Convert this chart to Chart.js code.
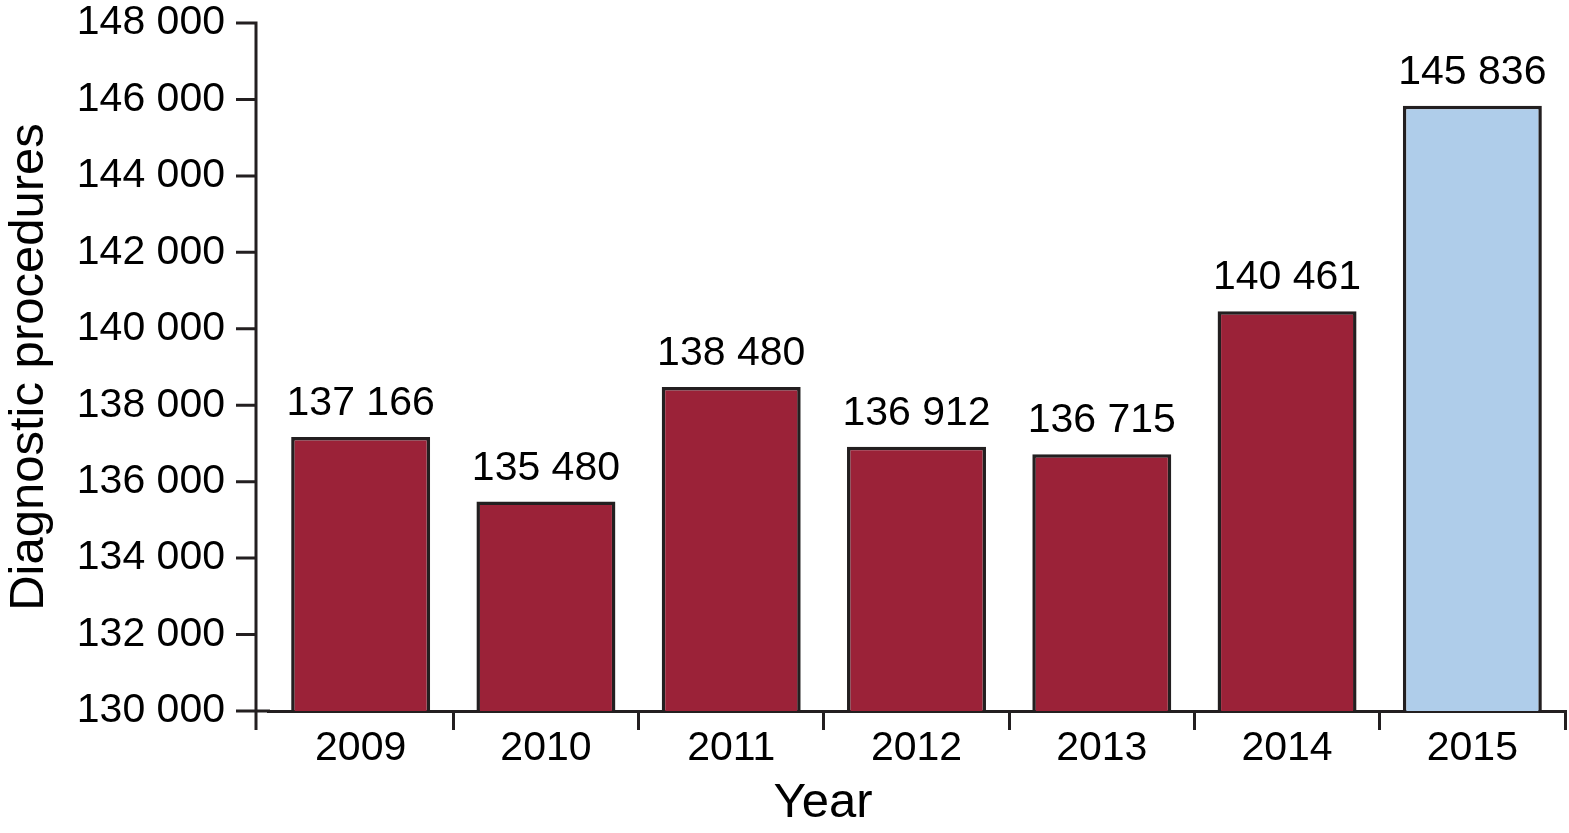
<!DOCTYPE html>
<html>
<head>
<meta charset="utf-8">
<script src="https://cdn.jsdelivr.net/npm/chart.js@4"></script>
<style>
  html, body { margin: 0; padding: 0; background: #fff; }
  #wrap { width: 1569px; height: 833px; }
</style>
</head>
<body>
<div id="wrap"><canvas id="myChart" width="1569" height="833"></canvas></div>
<script>
// data
const years = ['2009', '2010', '2011', '2012', '2013', '2014', '2015'];
const procedures = [137166, 135480, 138480, 136912, 136715, 140461, 145836];
const yMin = 130000;
const yMax = 148000;
const yStep = 2000;

const red = '#9b2238';
const blue = '#afcdea';
const ink = '#231f20';
const font = "'Liberation Sans', Arial, sans-serif";

// 148000 -> "148 000"
function fmt(v) {
    return String(v).replace(/\B(?=(\d{3})+(?!\d))/g, ' ');
}

// y axis line sits a bit left of where the first category starts
const axisPlugin = {
    id: 'axisPlugin',
    afterDraw(chart) {
        const ctx = chart.ctx;
        const a = chart.chartArea;
        const y = chart.scales.y;
        const ax = a.left - 12;
        ctx.save();
        ctx.strokeStyle = ink;
        ctx.lineWidth = 3;
        ctx.beginPath();
        ctx.moveTo(ax, y.getPixelForValue(yMax) - 1.5);
        ctx.lineTo(ax, a.bottom + 19);
        y.ticks.forEach(t => {
            const py = y.getPixelForValue(t.value);
            ctx.moveTo(ax - 20, py);
            ctx.lineTo(ax, py);
        });
        ctx.moveTo(ax, a.bottom);
        ctx.lineTo(a.left + 2, a.bottom);
        ctx.stroke();

        // x title, centred under the whole figure
        ctx.fillStyle = '#000';
        ctx.font = '49px ' + font;
        ctx.textAlign = 'center';
        ctx.textBaseline = 'alphabetic';
        ctx.fillText('Year', 823, 817);
        ctx.restore();
    },
    afterDatasetsDraw(chart) {
        const ctx = chart.ctx;
        const meta = chart.getDatasetMeta(0);
        ctx.save();
        ctx.fillStyle = '#000';
        ctx.font = '41px ' + font;
        ctx.textAlign = 'center';
        ctx.textBaseline = 'alphabetic';
        meta.data.forEach((bar, i) => {
            ctx.fillText(fmt(procedures[i]), bar.x, bar.y - 22);
        });
        ctx.restore();
    }
};

var ctx = document.getElementById('myChart').getContext('2d');
var chart = new Chart(ctx, {
    type: 'bar',
    data: {
        labels: years,
        datasets: [{
            data: procedures,
            backgroundColor: years.map((y, i) => i === years.length - 1 ? blue : red),
            borderColor: ink,
            borderWidth: 3.5,
            borderSkipped: false,
            barPercentage: 0.75,
            categoryPercentage: 1
        }]
    },
    options: {
        responsive: false,
        animation: false,
        layout: { padding: { top: 23, right: 4, left: 0, bottom: 0 } },
        plugins: {
            legend: { display: false },
            tooltip: { enabled: false }
        },
        scales: {
            x: {
                offset: true,
                afterFit: s => { s.height = 122; s.paddingLeft = 0; s.paddingRight = 0; },
                border: { display: true, color: ink, width: 3 },
                grid: {
                    offset: true,
                    drawOnChartArea: false,
                    drawTicks: true,
                    tickLength: 19,
                    lineWidth: 3,
                    color: c => c.index === 0 ? 'rgba(0,0,0,0)' : ink
                },
                ticks: {
                    color: '#000',
                    padding: -6,
                    font: { family: font, size: 41 }
                }
            },
            y: {
                min: yMin,
                max: yMax,
                afterFit: s => { s.width = 268; s.paddingTop = 0; s.paddingBottom = 0; },
                border: { display: false },
                grid: { display: false, drawTicks: false },
                ticks: {
                    stepSize: yStep,
                    color: '#000',
                    padding: 43,
                    font: { family: font, size: 41 },
                    callback: v => fmt(v)
                },
                title: {
                    display: true,
                    text: 'Diagnostic procedures',
                    color: '#000',
                    padding: 0,
                    font: { family: font, size: 49 }
                }
            }
        }
    },
    plugins: [axisPlugin]
});
</script>
</body>
</html>
